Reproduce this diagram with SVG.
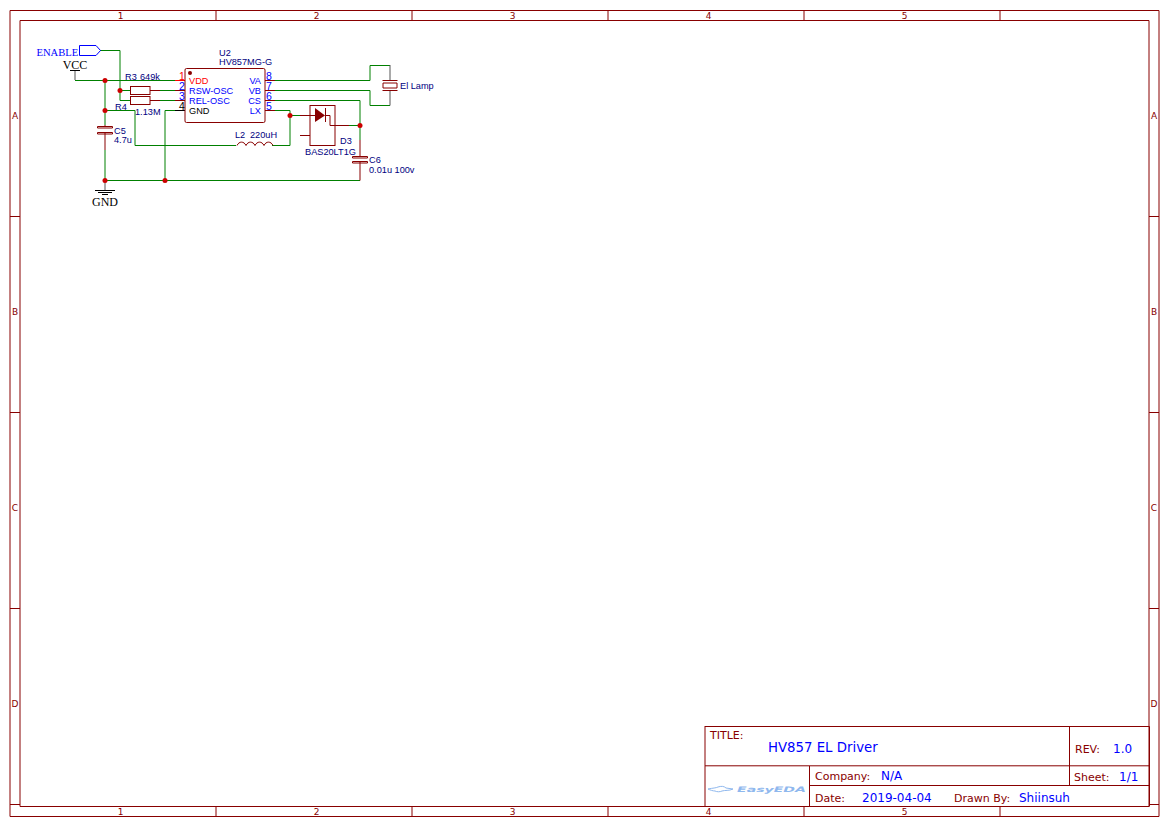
<svg xmlns="http://www.w3.org/2000/svg" width="1169" height="827" viewBox="0 0 1169 827">
<style>
text{font-family:"Liberation Sans",Arial,sans-serif;font-size:9.200px;fill:#000080}
.f text,text.f{font-family:"DejaVu Sans",sans-serif;font-size:9px;fill:#880000;text-anchor:middle}
.t{font-family:"DejaVu Sans",sans-serif;font-size:11px;fill:#880000}
.v{font-family:"DejaVu Sans",sans-serif;font-size:12px;fill:#0000ff}
.s{font-family:"Liberation Serif",serif;font-size:12px;fill:#000;text-anchor:middle}
.n{fill:#0000ff}.r{fill:#ff0000}.k{fill:#000}
.p{font-size:10.500px}
.lr{fill:none;stroke:#880000;stroke-width:1}
.w{fill:none;stroke:#008000;stroke-width:1}
.g{fill:none;stroke:#000;stroke-width:1}
.d{fill:#cc0000;stroke:none}
</style>
<rect width="1169" height="827" fill="#fff"/>
<g id="frame">
<path class="lr" d="M10 10.500H1159V816.500H10ZM20 20.500H1149V806.500H20ZM10 804.500H20M1149 804.500H1159M216 10V20M412 10V20M608 10V20M804 10V20M1000 10V20M216 806.500V816.500M412 806.500V816.500M608 806.500V816.500M804 806.500V816.500M1000 806.500V816.500M10 216.500H20M10 412.500H20M10 608.500H20M1149 216.500H1159M1149 412.500H1159M1149 608.500H1159"/>
<g class="f">
<text x="120.500" y="18.500">1</text><text x="316.500" y="18.500">2</text><text x="512.500" y="18.500">3</text><text x="708.500" y="18.500">4</text><text x="904.500" y="18.500">5</text>
<text x="120.500" y="815">1</text><text x="316.500" y="815">2</text><text x="512.500" y="815">3</text><text x="708.500" y="815">4</text><text x="904.500" y="815">5</text>
<text x="15" y="118.500">A</text><text x="15" y="314.500">B</text><text x="15" y="510.500">C</text><text x="15" y="706.500">D</text>
<text x="1154" y="118.500">A</text><text x="1154" y="314.500">B</text><text x="1154" y="510.500">C</text><text x="1154" y="706.500">D</text>
</g>
</g>
<g id="title-block">
<path class="lr" d="M705 726.500H1149.500V806.500M705 726V806.500M705 765.800H1149M809.500 785.500H1149M809.500 766V806.500M1069.500 726.500V785.500"/>
<text class="t" x="710" y="739">TITLE:</text>
<text class="v" x="768" y="752" style="font-size:13.300px">HV857 EL Driver</text>
<text class="t" x="815" y="780">Company:</text>
<text class="v" x="881" y="780">N/A</text>
<text class="t" x="815" y="802">Date:</text>
<text class="v" x="862" y="802">2019-04-04</text>
<text class="t" x="954" y="802">Drawn By:</text>
<text class="v" x="1019" y="802">Shiinsuh</text>
<text class="t" x="1075" y="753">REV:</text>
<text class="v" x="1113" y="753">1.0</text>
<text class="t" x="1074" y="781">Sheet:</text>
<text class="v" x="1119" y="781">1/1</text>
<path d="M708 789c5-1 8-1 10-2 3-1 6-1 8 1l7 1c-4 2-8 1-11 2-2 1-5 1-7 0-2 0-5-1-7-2z" fill="none" stroke="#8fb8ee" stroke-width="1"/>
<text x="737" y="791.500" textLength="69" lengthAdjust="spacingAndGlyphs" style="font-family:'DejaVu Sans',sans-serif;font-size:7.500px;font-style:italic;font-weight:bold;fill:#8fb8ee">EasyEDA</text>
</g>
<g id="wires">
<path class="w" d="M100 50.500H120V100.500H130M120 90.500H130M75 80.500H175M105 80V125M105 150V180.500M105 110.500H135V145.500H236M272 145.500H290V110.500H275M160 90.500H175M160 100.500H175M175 110.500H165V180.500M105 180.500H360M275 80.500H370V65.500H390M275 90.500H370V105.500H390M275 100.500H360V140M290 115.500H300M349 125.500H360"/>
<path class="lr" d="M150 90.500H160M150 100.500H160M265 80.500H275M265 90.500H275M265 100.500H275M265 110.500H275M175 90.500H185M175 100.500H185M300 115.500H315M330 125.500H349M300 135.500H310M105 125V127M105 133V150M360 140V157M360 162V180.500"/>
<path d="M175 80.500H185" stroke="#ff0000" fill="none"/>
<path class="g" d="M175 110.500H185"/>
<path d="M75 71V80M105 180.500V190M390 65V80M390 90V105.500" stroke="#555" fill="none"/>
</g>
<g id="junctions">
<circle class="d" cx="105" cy="80.500" r="2.500"/><circle class="d" cx="120" cy="90.500" r="2.500"/><circle class="d" cx="105" cy="110.500" r="2.500"/><circle class="d" cx="105" cy="180.500" r="2.500"/><circle class="d" cx="165" cy="180.500" r="2.500"/><circle class="d" cx="290" cy="115.500" r="2.500"/><circle class="d" cx="360" cy="125.500" r="2.500"/>
</g>
<g id="ENABLE">
<path d="M79.500 45.500H96L100.500 50.500L96 55.500H79.500Z" fill="none" stroke="#0000ff"/>
<text x="36.500" y="55.500" style="font-family:'Liberation Serif',serif;font-size:10.600px;fill:#0000ff">ENABLE</text>
</g>
<g id="VCC">
<path class="g" d="M70 70.500H80"/>
<text class="s" x="75" y="68.500">VCC</text>
</g>
<g id="GND">
<path class="g" d="M95 190.500H115M98 192.500H112M102 194.500H108"/>
<text class="s" x="105" y="206">GND</text>
</g>
<g id="R3">
<rect class="lr" x="130.500" y="86.500" width="19.500" height="8"/>
<text x="125" y="80">R3</text><text x="140" y="80">649k</text>
</g>
<g id="R4">
<rect class="lr" x="130.500" y="96.500" width="19.500" height="8"/>
<text x="115" y="109.500">R4</text><text x="135" y="115">1.13M</text>
</g>
<g id="C5">
<path class="lr" d="M97.500 126.500H112.500V128H97.500ZM97.500 132.500H112.500V134H97.500Z"/>
<text x="114" y="134">C5</text><text x="114" y="143">4.7u</text>
</g>
<g id="U2">
<rect class="lr" x="185" y="68.500" width="80" height="54" rx="1.500"/>
<circle cx="190" cy="73" r="2" fill="#880000"/>
<text x="219" y="56">U2</text><text x="219" y="65">HV857MG-G</text>
<text class="r" x="189" y="84">VDD</text><text class="n" x="189" y="94">RSW-OSC</text><text class="n" x="189" y="104">REL-OSC</text><text class="k" x="189" y="114">GND</text>
<g text-anchor="end"><text class="n" x="261" y="84">VA</text><text class="n" x="261" y="94">VB</text><text class="n" x="261" y="104">CS</text><text class="n" x="261" y="114">LX</text></g>
<text class="r p" x="179" y="79.500">1</text><text class="n p" x="179" y="89.500">2</text><text class="n p" x="179" y="99.500">3</text><text class="k p" x="179" y="109.500">4</text>
<text class="n p" x="266" y="79.500">8</text><text class="n p" x="266" y="89.500">7</text><text class="n p" x="266" y="99.500">6</text><text class="n p" x="266" y="109.500">5</text>
</g>
<g id="L2">
<path class="lr" d="M237 145.500C239 141 244 141 246 145.500C248 141 253 141 255 145.500C257 141 262 141 264 145.500C266 141 271 141 273 145.500"/>
<text x="235" y="138">L2</text><text x="250" y="138">220uH</text>
</g>
<g id="D3">
<rect class="lr" x="310" y="105.500" width="25" height="40"/>
<path d="M315 108L325 115.500L315 122Z" fill="#880000"/>
<path class="lr" d="M325 115.500H330V125.500M325.500 108V122" stroke-width="1.500"/>
<text x="340" y="144">D3</text><text x="305" y="155">BAS20LT1G</text>
</g>
<g id="C6">
<path class="lr" d="M352.500 156.500H367.500V158H352.500ZM352.500 161.500H367.500V163H352.500Z"/>
<text x="369" y="163">C6</text><text x="369" y="173">0.01u 100v</text>
</g>
<g id="ElLamp">
<path class="lr" d="M382.500 80.500H397.500M383 83H397V88H383ZM382.500 90.500H397.500"/>
<text x="400" y="89">El Lamp</text>
</g>
</svg>
